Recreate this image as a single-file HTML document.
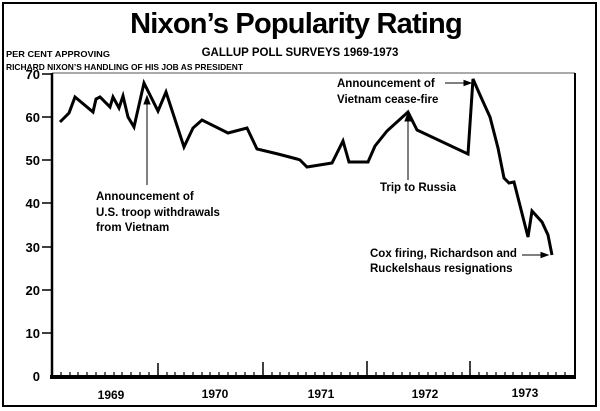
<!DOCTYPE html>
<html><head><meta charset="utf-8"><style>
html,body{margin:0;padding:0;background:#fff;}
svg{display:block;}
text{font-family:"Liberation Sans",sans-serif;font-weight:bold;fill:#000;}
</style></head><body>
<svg width="600" height="411" viewBox="0 0 600 411" xmlns="http://www.w3.org/2000/svg">
<rect x="3" y="3" width="593" height="403" fill="none" stroke="#000" stroke-width="2"/>
<text x="296" y="33" font-size="29" text-anchor="middle" letter-spacing="-0.8">Nixon’s Popularity Rating</text>
<text x="300" y="56" font-size="11.5" text-anchor="middle">GALLUP POLL SURVEYS 1969-1973</text>
<text x="6" y="57" font-size="8.5" textLength="104" lengthAdjust="spacingAndGlyphs">PER CENT APPROVING</text>
<text x="6" y="70" font-size="8.5" textLength="237" lengthAdjust="spacingAndGlyphs">RICHARD NIXON’S HANDLING OF HIS JOB AS PRESIDENT</text>
<line x1="52" y1="73" x2="575" y2="73" stroke="#555" stroke-width="1"/>
<line x1="575" y1="73" x2="575" y2="378" stroke="#000" stroke-width="2"/>
<line x1="52" y1="73" x2="52" y2="378" stroke="#000" stroke-width="2.5"/>
<line x1="50" y1="377" x2="576" y2="377" stroke="#000" stroke-width="4"/>
<g stroke="#000" stroke-width="1.5">
<line x1="42" y1="74" x2="52" y2="74"/><line x1="42" y1="117" x2="52" y2="117"/>
<line x1="42" y1="160" x2="52" y2="160"/><line x1="42" y1="203" x2="52" y2="203"/>
<line x1="42" y1="247" x2="52" y2="247"/><line x1="42" y1="290" x2="52" y2="290"/>
<line x1="42" y1="333" x2="52" y2="333"/>
<line x1="158" y1="363" x2="158" y2="377"/><line x1="263" y1="362" x2="263" y2="377"/>
<line x1="367" y1="361" x2="367" y2="377"/><line x1="470" y1="361" x2="470" y2="377"/>
</g>
<g stroke="#000" stroke-width="1.2">
<path d="M61 377v-5M70 377v-5M78 377v-5M87 377v-5M96 377v-5M105 377v-5M114 377v-5M122 377v-5M131 377v-5M140 377v-5M149 377v-5M167 377v-5M175 377v-5M184 377v-5M193 377v-5M202 377v-5M210 377v-5M219 377v-5M228 377v-5M236 377v-5M245 377v-5M254 377v-5M272 377v-5M280 377v-5M289 377v-5M298 377v-5M306 377v-5M315 377v-5M324 377v-5M332 377v-5M341 377v-5M350 377v-5M358 377v-5M376 377v-5M384 377v-5M393 377v-5M402 377v-5M410 377v-5M419 377v-5M428 377v-5M436 377v-5M445 377v-5M453 377v-5M462 377v-5M479 377v-5M487 377v-5M496 377v-5M505 377v-5M513 377v-5M522 377v-5M530 377v-5M539 377v-5M548 377v-5M556 377v-5M565 377v-5"/>
</g>
<g font-size="13" text-anchor="end">
<text x="40" y="79">70</text><text x="40" y="122">60</text><text x="40" y="165">50</text>
<text x="40" y="208">40</text><text x="40" y="252">30</text><text x="40" y="295">20</text>
<text x="40" y="338">10</text><text x="40" y="381">0</text>
</g>
<g font-size="12" text-anchor="middle">
<text x="111" y="399">1969</text><text x="215" y="398">1970</text><text x="321" y="398">1971</text>
<text x="425" y="398">1972</text><text x="525" y="397">1973</text>
</g>
<polyline fill="none" stroke="#000" stroke-width="3" stroke-linejoin="miter" points="60,122 69,113 75,97 93,112 96,99 100,97 110,107 113,97 119,108 123,96 128,117 134,127 144,83 158,111 166,92 184,147 193,128 202,120 228,133 247,128 257,149 278,154 297,159 300,160 307,167 332,163 343,141 349,162 368,162 375,146 387,131 408,112 417,130 468,154 473,79 480,95 490,117 498,148 504,178 509,183 514,182 528,237 532,211 542,222 548,235 552,255"/>
<g stroke="#000" stroke-width="1">
<line x1="147" y1="100" x2="147" y2="185"/><path d="M144 104 L147 96 L150 104Z" fill="#000"/>
<line x1="408" y1="117" x2="408" y2="180"/><path d="M405 121 L408 113 L411 121Z" fill="#000"/>
<line x1="445" y1="83" x2="466" y2="83"/><path d="M464 80.5 L471 83 L464 85.5Z" fill="#000"/>
<line x1="522" y1="255" x2="543" y2="255"/><path d="M541 252.5 L548 255 L541 257.5Z" fill="#000"/>
</g>
<g font-size="11.5">
<text x="96" y="200">Announcement of</text>
<text x="96" y="216">U.S. troop withdrawals</text>
<text x="96" y="231">from Vietnam</text>
<text x="337" y="87">Announcement of</text>
<text x="337" y="103">Vietnam cease-fire</text>
<text x="380" y="191">Trip to Russia</text>
<text x="370" y="257">Cox firing, Richardson and</text>
<text x="370" y="272">Ruckelshaus resignations</text>
</g>
</svg>
</body></html>
